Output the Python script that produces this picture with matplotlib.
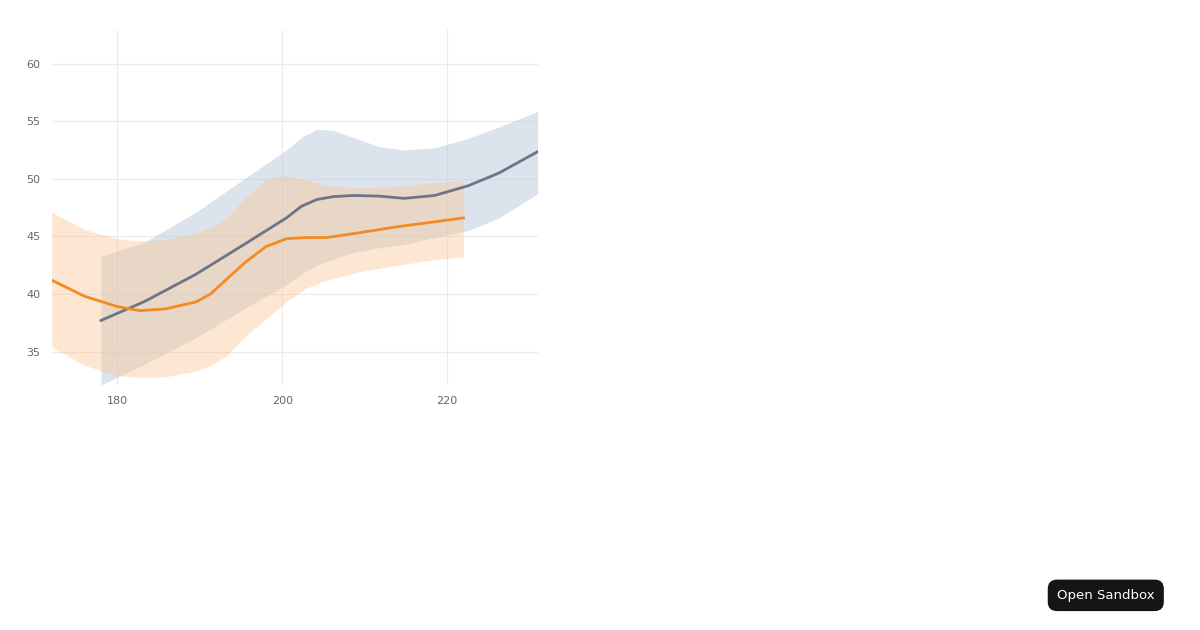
import numpy as np
import matplotlib.pyplot as plt

# orange series (x, line, upper, lower)
orange_x = [172, 176, 180, 182.7, 185.8, 189.5, 191.3, 193.2, 195.6, 198, 200.5, 202.9, 205.4, 209.2, 214.1, 217.8, 222]
orange_y = [41.2, 39.8, 38.9, 38.55, 38.7, 39.3, 40.0, 41.25, 42.8, 44.1, 44.8, 44.9, 44.9, 45.3, 45.85, 46.2, 46.6]
orange_hi = [47.1, 45.6, 44.8, 44.6, 44.7, 45.3, 45.8, 46.6, 48.4, 49.9, 50.3, 49.9, 49.4, 49.2, 49.35, 49.6, 49.85]
orange_lo = [35.4, 33.8, 32.9, 32.75, 32.8, 33.3, 33.8, 34.6, 36.4, 37.8, 39.3, 40.5, 41.2, 41.9, 42.5, 42.9, 43.25]

# blue series
blue_x = [178, 183.3, 189.5, 195.6, 200.5, 202.3, 204.2, 206.2, 208.6, 211.7, 214.8, 218.5, 222.6, 226.3, 231]
blue_y = [37.7, 39.35, 41.7, 44.4, 46.6, 47.6, 48.2, 48.45, 48.55, 48.5, 48.3, 48.55, 49.4, 50.5, 52.35]
blue_hi = [43.25, 44.5, 47.1, 50.1, 52.5, 53.6, 54.3, 54.2, 53.6, 52.8, 52.5, 52.7, 53.5, 54.5, 55.85]
blue_lo = [32.1, 33.9, 36.2, 38.8, 40.8, 41.7, 42.5, 43.0, 43.6, 44.0, 44.3, 44.9, 45.5, 46.6, 48.7]

fig = plt.figure(figsize=(12, 6.3), dpi=100)
ax = fig.add_axes([0.043, 0.389, 0.405, 0.563])

ax.fill_between(blue_x, blue_lo, blue_hi, color='#b8c8da', alpha=0.5, lw=0)
ax.fill_between(orange_x, orange_lo, orange_hi, color='#fdc58f', alpha=0.4, lw=0)
ax.plot(blue_x, blue_y, color='#6b7585', lw=2)
ax.plot(orange_x, orange_y, color='#f28b21', lw=2)

ax.set_xlim(172, 231)
ax.set_ylim(32.1, 62.9)
ax.set_xticks([180, 200, 220])
ax.set_yticks([35, 40, 45, 50, 55, 60])
ax.grid(color='#ebebeb', lw=0.8)
ax.set_axisbelow(True)
for s in ax.spines.values():
    s.set_visible(False)
ax.tick_params(length=0, labelsize=8, colors='#666666', pad=8)

fig.text(0.9215, 0.055, 'Open Sandbox', color='white', fontsize=9.5, ha='center', va='center',
         bbox=dict(boxstyle='round,pad=0.7', fc='#151515', ec='none'))

fig.savefig('out.png')
